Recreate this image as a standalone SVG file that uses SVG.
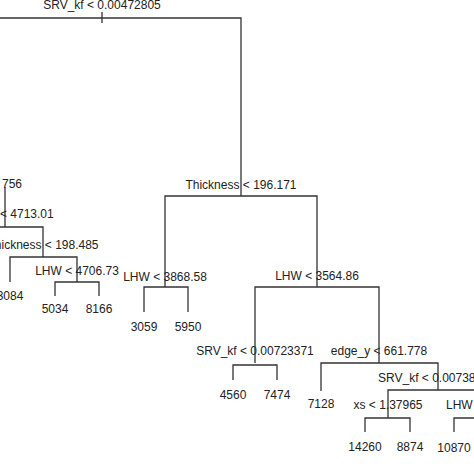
<svg xmlns="http://www.w3.org/2000/svg" width="474" height="474" viewBox="0 0 474 474">
<style>
text{font-family:"Liberation Sans",Arial,sans-serif;font-size:12px;fill:#222;text-anchor:middle}
.e{stroke:#333;stroke-width:1.3;fill:none}
</style>
<rect width="474" height="474" fill="#fff"/>
<g id="connectors">
<path class="e" d="M102,12V23M0,18H241V196M5,187V227M0,227H43V257M10,282V257H77V282M55,296V282H99V296"/>
<path class="e" d="M165,287V196H317V287M144,312V287H188V312M255,363V287H379V363M233,380V365H277V380"/>
<path class="e" d="M321,391V363H438V390M388,418V390H474M365,432V418H410V432M454,432V418H474"/>
</g>
<g id="labels">
<text x="102" y="9">SRV_kf &lt; 0.00472805</text>
<g id="n1"><text x="22" y="188" text-anchor="end" style="text-anchor:end">756</text></g>
<g id="n2"><text x="0" y="218" style="text-anchor:start">&lt; 4713.01</text></g>
<g id="n3"><text x="43" y="249">Thickness &lt; 198.485</text></g>
<g id="n4"><text x="10" y="300">3084</text></g>
<g id="n5"><text x="77" y="275">LHW &lt; 4706.73</text></g>
<g id="n6"><text x="55" y="313">5034</text></g>
<g id="n7"><text x="99" y="313">8166</text></g>
<g id="n8"><text x="241" y="189">Thickness &lt; 196.171</text></g>
<g id="n9"><text x="165" y="281">LHW &lt; 3868.58</text></g>
<g id="n10"><text x="144" y="331">3059</text></g>
<g id="n11"><text x="188" y="331">5950</text></g>
<g id="n12"><text x="317" y="280">LHW &lt; 3564.86</text></g>
<g id="n13"><text x="255" y="355">SRV_kf &lt; 0.00723371</text></g>
<g id="n14"><text x="233" y="399">4560</text></g>
<g id="n15"><text x="277" y="399">7474</text></g>
<g id="n16"><text x="379" y="355">edge_y &lt; 661.778</text></g>
<g id="n17"><text x="321" y="408">7128</text></g>
<g id="n18"><text x="378" y="382" style="text-anchor:start">SRV_kf &lt; 0.00738</text></g>
<g id="n19"><text x="388" y="409">xs &lt; 1.37965</text></g>
<g id="n20"><text x="365" y="451">14260</text></g>
<g id="n21"><text x="410" y="451">8874</text></g>
<g id="n22"><text x="446" y="409" style="text-anchor:start">LHW</text></g>
<g id="n23"><text x="454" y="452">10870</text></g>
</g>
</svg>
